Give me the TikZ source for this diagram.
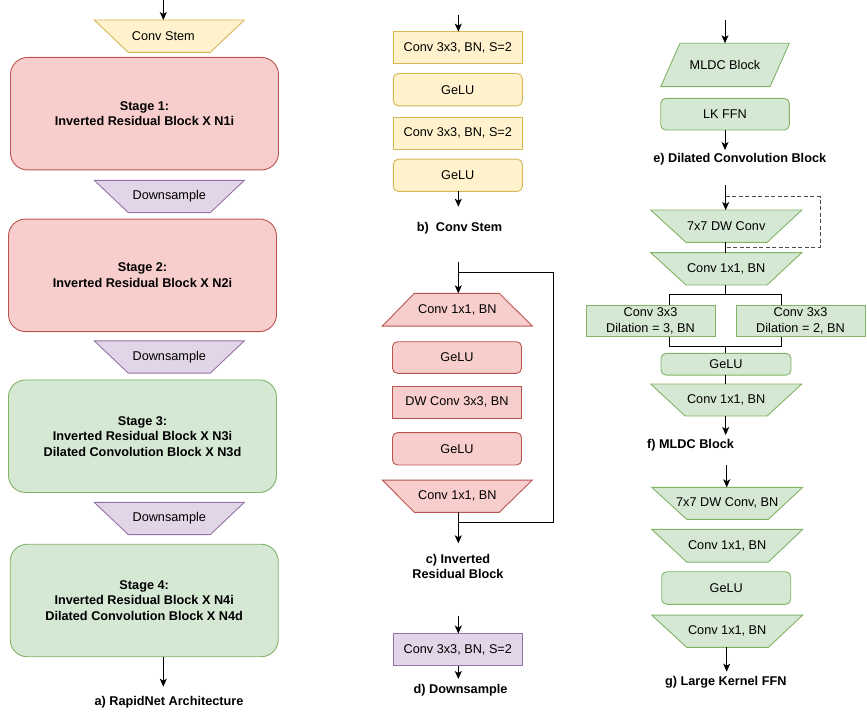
\documentclass[tikz,border=0pt]{standalone}
\usepackage{fontspec}
\setmainfont{Liberation Sans}
\usetikzlibrary{arrows.meta,backgrounds}
\definecolor{yfill}{HTML}{FFF2CC}\definecolor{ystroke}{HTML}{D6B656}
\definecolor{rfill}{HTML}{F8CECC}\definecolor{rstroke}{HTML}{B85450}
\definecolor{pfill}{HTML}{E1D5E7}\definecolor{pstroke}{HTML}{9673A6}
\definecolor{gfill}{HTML}{D5E8D4}\definecolor{gstroke}{HTML}{82B366}
% polygon behind a named node: nw, ne, se, sw x-shifts, style
\newcommand{\polyshape}[6]{\draw[line width=0.9pt,#6] ([xshift=#2]#1.north west) -- ([xshift=#3]#1.north east) -- ([xshift=#4]#1.south east) -- ([xshift=#5]#1.south west) -- cycle;}
\begin{document}
\begin{tikzpicture}[x=1pt,y=-1pt,
  every node/.style={font=\fontsize{12.7}{15.5}\selectfont, inner sep=0pt, outer sep=0pt, align=center},
  yel/.style={fill=yfill, draw=ystroke},
  red/.style={fill=rfill, draw=rstroke},
  pur/.style={fill=pfill, draw=pstroke},
  grn/.style={fill=gfill, draw=gstroke},
  rbox/.style={rectangle, line width=0.9pt, minimum width=129pt, minimum height=32.3pt},
  rnd/.style={rbox, rounded corners=5pt},
  stage/.style={rectangle, rounded corners=17pt, line width=0.9pt, minimum width=268pt, minimum height=112.5pt, font=\bfseries\fontsize{12.7}{15.5}\selectfont},
  shp/.style={rectangle, minimum width=150pt, minimum height=32.3pt},
  arr/.style={-{Stealth[length=8pt,width=7pt,inset=2pt]}, line width=0.9pt},
  ln/.style={line width=0.9pt},
  lbl/.style={font=\bfseries\fontsize{12.7}{15.5}\selectfont}
]
\useasboundingbox (0,0) rectangle (867,714);

% ---------- a) RapidNet Architecture
\coordinate (ain) at (163.3,0);
\node[shp] (cs) at (169.3,36.2) {\makebox[0pt][c]{Conv Stem\hspace{12pt}}};
\node[stage, red] (s1) at (144.5,113.7) {Stage 1:\\Inverted Residual Block X N1i};
\node[shp] (d1) at (169.3,196.5) {Downsample};
\node[stage, red] (s2) at (142.5,275.3) {Stage 2:\\Inverted Residual Block X N2i};
\node[shp] (d2) at (169.3,357) {Downsample};
\node[stage, grn] (s3) at (142.5,436.2) {Stage 3:\\Inverted Residual Block X N3i\\Dilated Convolution Block X N3d};
\node[shp] (d3) at (169.3,518.5) {Downsample};
\node[stage, grn] (s4) at (144.2,600.5) {Stage 4:\\Inverted Residual Block X N4i\\Dilated Convolution Block X N4d};
\coordinate (aout) at (163.3,686.7);
\draw[arr] (ain) -- (ain |- cs.north);
\draw[arr] (s4.south -| aout) -- (aout);
\node[lbl] (la) at (169,702.7) {a) RapidNet Architecture};

% ---------- b) Conv Stem
\coordinate (bin) at (458.3,15);
\node[rbox, yel] (b1) at (457.8,47.8) {Conv 3x3, BN, S=2};
\node[rnd, yel] (b2) at (457.8,89.7) {GeLU};
\node[rbox, yel] (b3) at (457.8,133.3) {Conv 3x3, BN, S=2};
\node[rnd, yel] (b4) at (457.8,175.3) {GeLU};
\coordinate (bout) at (458.3,206.7);
\draw[arr] (bin) -- (bin |- b1.north);
\draw[arr] (b4.south -| bout) -- (bout);
\node[lbl] (lb) at (459.5,228.7) {b)\ \ Conv Stem};

% ---------- c) Inverted Residual Block
\coordinate (cin) at (458.3,262.3);
\node[shp, minimum height=32.7pt] (c1) at (457.3,309.7) {Conv 1x1, BN};
\node[rnd, red, minimum height=31.6pt] (c2) at (457,357.5) {GeLU};
\node[rbox, red] (c3) at (457,402.2) {DW Conv 3x3, BN};
\node[rnd, red] (c4) at (457,448.8) {GeLU};
\node[shp] (c5) at (457.3,496.2) {Conv 1x1, BN};
\coordinate (cout) at (458.3,543.3);
\coordinate (cr1) at (458.3,272.7);
\coordinate (cr2) at (553.3,272.7);
\coordinate (cr3) at (553.3,522.7);
\coordinate (cr4) at (458.3,522.7);
\draw[arr] (cin) -- (cin |- c1.north);
\draw[arr] (c5.south -| cout) -- (cout);
\draw[ln] (cr1) -- (cr2) -- (cr3) -- (cr4);
\node[lbl] (lc) at (458,566.5) {c) Inverted\\Residual Block};

% ---------- d) Downsample
\coordinate (din) at (458.3,615.7);
\node[rbox, pur] (dd) at (457.8,649.7) {Conv 3x3, BN, S=2};
\coordinate (dout) at (458.3,679);
\draw[arr] (din) -- (din |- dd.north);
\draw[arr] (dd.south -| dout) -- (dout);
\node[lbl] (ld) at (460.5,690) {d) Downsample};

% ---------- e) Dilated Convolution Block
\coordinate (ein) at (725,20);
\node[shp, minimum width=128.6pt, minimum height=43.4pt] (e1) at (725,65) {MLDC Block};
\node[rnd, grn, minimum width=128.6pt, minimum height=31.7pt] (e2) at (725,114.2) {LK FFN};
\coordinate (eout) at (725,150);
\draw[arr] (ein) -- (ein |- e1.north);
\draw[arr] (e2.south -| eout) -- (eout);
\node[lbl] (le) at (739.7,159) {e) Dilated Convolution Block};

% ---------- f) MLDC Block
\coordinate (fin) at (725.7,185);
\node[shp, minimum width=151pt] (f1) at (726.2,226.2) {7x7 DW Conv};
\node[shp, minimum width=151pt] (f2) at (726.2,268.8) {Conv 1x1, BN};
\node[rbox, grn, minimum height=31.7pt] (f3) at (650.5,320.8) {Conv 3x3\\Dilation = 3, BN};
\node[rbox, grn, minimum height=31.7pt] (f4) at (800.5,320.8) {Conv 3x3\\Dilation = 2, BN};
\node[rnd, grn, minimum width=130pt, minimum height=21.7pt] (f5) at (726,364.2) {GeLU};
\node[shp, minimum width=151pt, minimum height=32pt] (f6) at (726.2,400) {Conv 1x1, BN};
\coordinate (fd1) at (725.7,196.7);
\coordinate (fd2) at (820,196.7);
\coordinate (fd3) at (820,247.3);
\coordinate (fd4) at (725.7,247.3);
\coordinate (fs) at (725.7,294);
\coordinate (fsl) at (669.3,294);
\coordinate (fsr) at (781,294);
\coordinate (fm) at (725.7,346.7);
\coordinate (fml) at (669.3,346.7);
\coordinate (fmr) at (781,346.7);
\coordinate (fout) at (725.7,435);
\draw[arr] (fin) -- (fin |- f1.north);
\draw[ln, dash pattern=on 4pt off 2.5pt, black!70] (fd1) -- (fd2) -- (fd3) -- (fd4);
\draw[ln] (f1.south -| fin) -- (f2.north -| fin);
\draw[ln] (f2.south -| fin) -- (fs);
\draw[ln] (fsl |- f3.north) -- (fsl) -- (fsr) -- (fsr |- f4.north);
\draw[ln] (fml |- f3.south) -- (fml) -- (fmr) -- (fmr |- f4.south);
\draw[ln] (fm) -- (fm |- f5.north);
\draw[ln] (f5.south -| fin) -- (f6.north -| fin);
\draw[arr] (f6.south -| fout) -- (fout);
\node[lbl] (lf) at (690.5,445.5) {f) MLDC Block};

% ---------- g) Large Kernel FFN
\coordinate (gin) at (726.7,465);
\node[shp, minimum width=151pt, minimum height=32pt] (g1) at (727.2,503.3) {7x7 DW Conv, BN};
\node[shp, minimum width=151pt, minimum height=32.7pt] (g2) at (727.2,545.7) {Conv 1x1, BN};
\node[rnd, grn, minimum height=32.6pt] (g3) at (726.2,588) {GeLU};
\node[shp, minimum width=151pt, minimum height=32.3pt] (g4) at (727.2,631.2) {Conv 1x1, BN};
\coordinate (gout) at (726.7,671.7);
\draw[arr] (gin) -- (gin |- g1.north);
\draw[arr] (g4.south -| gout) -- (gout);
\node[lbl] (lg) at (725.8,682) {g) Large Kernel FFN};

% ---------- trapezoid / parallelogram outlines behind their texts
\begin{pgfonlayer}{background}
\polyshape{cs}{0pt}{0pt}{-34pt}{34pt}{yel}
\polyshape{d1}{0pt}{0pt}{-34pt}{34pt}{pur}
\polyshape{d2}{0pt}{0pt}{-34pt}{34pt}{pur}
\polyshape{d3}{0pt}{0pt}{-34pt}{34pt}{pur}
\polyshape{c1}{32pt}{-33pt}{0pt}{0pt}{red}
\polyshape{c5}{0pt}{0pt}{-33pt}{32pt}{red}
\polyshape{e1}{19.3pt}{0pt}{-19.3pt}{0pt}{grn}
\polyshape{f1}{0pt}{0pt}{-34.5pt}{35.3pt}{grn}
\polyshape{f2}{0pt}{0pt}{-34.5pt}{35.3pt}{grn}
\polyshape{f6}{0pt}{0pt}{-34.5pt}{34.5pt}{grn}
\polyshape{g1}{0pt}{0pt}{-34.4pt}{35pt}{grn}
\polyshape{g2}{0pt}{0pt}{-34.4pt}{35pt}{grn}
\polyshape{g4}{0pt}{0pt}{-34.4pt}{35pt}{grn}
\end{pgfonlayer}
\end{tikzpicture}
\end{document}
